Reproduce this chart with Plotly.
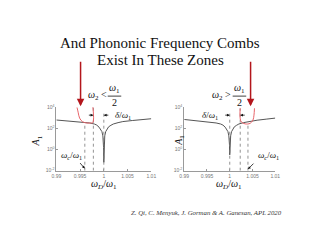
import plotly.graph_objects as go

W, H = 320, 240

title_lines = ["And Phononic Frequency Combs", "Exist In These Zones"]
citation = "Z. Qi, C. Menyuk, J. Gorman &amp; A. Ganesan, APL 2020"

x_ticks = [0.99, 0.995, 1.0, 1.005, 1.01]
x_ticktext = ["0.99", "0.995", "1", "1.005", "1.01"]
y_ticks = [-2, 0, 2, 4]
y_ticktext = ["10<sup>-2</sup>", "10<sup>0</sup>", "10<sup>2</sup>", "10<sup>4</sup>"]

# response curve (log10 A1)
left_x = [0.990, 0.992, 0.994, 0.996, 0.997, 0.998, 0.9985, 0.999, 0.9994, 0.9996,
          0.9998, 0.9999, 0.99995, 1.0, 1.00005, 1.0001, 1.0002, 1.0004, 1.0006,
          1.001, 1.0015, 1.002, 1.003, 1.004, 1.006, 1.008, 1.010]
left_logA = [2.8, 2.72, 2.66, 2.6, 2.52, 2.42, 2.32, 2.12, 1.9, 1.7,
             1.3, 0.8, 0.2, -1.2, 0.2, 0.8, 1.3, 1.7, 1.9,
             2.15, 2.3, 2.42, 2.55, 2.65, 2.75, 2.85, 2.92]
right_x = left_x
right_logA = [2.85, 2.76, 2.68, 2.6, 2.52, 2.42, 2.32, 2.12, 1.9, 1.7,
              1.3, 0.9, 0.4, -0.5, 0.4, 0.9, 1.3, 1.7, 1.9,
              2.15, 2.3, 2.42, 2.55, 2.65, 2.78, 2.88, 2.98]

# dotted marker lines: positions and top heights (log10 A1)
left_marks = [0.996, 0.9978, 1.0]
left_mark_tops = [2.6, 4.0, 3.45]
right_marks = [1.0, 1.0023, 1.004]
right_mark_tops = [3.45, 3.9, 2.55]

# red zone outlines
left_zone_x = [0.99435, 0.99459, 0.9949, 0.99551, 0.99633, 0.99714, 0.99769, 0.99769]
left_zone_y = [4.0, 3.54, 2.98, 2.64, 2.52, 2.52, 2.55, 4.05]
right_zone_x = [1.00228, 1.00228, 1.00255, 1.0034, 1.00447, 1.0051, 1.00532, 1.00543]
right_zone_y = [3.91, 2.98, 2.61, 2.43, 2.48, 2.8, 3.26, 3.91]

fig = go.Figure()

curve_color = "#555555"
for xs, ys, xa, ya in [(left_x, left_logA, "x", "y"), (right_x, right_logA, "x2", "y2")]:
    fig.add_trace(go.Scatter(x=xs, y=ys, mode="lines", xaxis=xa, yaxis=ya,
                             line=dict(color=curve_color, width=1), showlegend=False,
                             hoverinfo="skip"))

for marks, tops, xa, ya in [(left_marks, left_mark_tops, "x", "y"),
                            (right_marks, right_mark_tops, "x2", "y2")]:
    for m, t in zip(marks, tops):
        fig.add_trace(go.Scatter(x=[m, m], y=[-2, t], mode="lines", xaxis=xa, yaxis=ya,
                                 line=dict(color="#777777", width=0.8, dash="dot"),
                                 showlegend=False, hoverinfo="skip"))

for zx, zy, xa, ya in [(left_zone_x, left_zone_y, "x", "y"), (right_zone_x, right_zone_y, "x2", "y2")]:
    fig.add_trace(go.Scatter(x=zx, y=zy, mode="lines", xaxis=xa, yaxis=ya,
                             line=dict(color="#e8646a", width=1, shape="spline"),
                             showlegend=False, hoverinfo="skip"))

def px(x):
    return x / W

def py(y):
    return 1 - y / H

ax_common = dict(showline=True, linecolor="#9a9a9a", linewidth=0.8, mirror=False,
                 ticks="inside", ticklen=2, tickcolor="#9a9a9a", showgrid=False,
                 zeroline=False, tickfont=dict(size=5, color="#777777", family="Liberation Sans"))

ydom = [py(172), py(107)]
fig.update_layout(
    width=W, height=H, margin=dict(l=0, r=0, t=0, b=0),
    paper_bgcolor="white", plot_bgcolor="white",
    xaxis=dict(domain=[px(53), px(151)], range=[0.99, 1.01], tickvals=x_ticks,
               ticktext=x_ticktext, anchor="y", **ax_common),
    yaxis=dict(domain=ydom, range=[-2, 4], tickvals=y_ticks, ticktext=y_ticktext,
               anchor="x", **ax_common),
    xaxis2=dict(domain=[px(185), px(279)], range=[0.99, 1.01], tickvals=x_ticks,
                ticktext=x_ticktext, anchor="y2", **ax_common),
    yaxis2=dict(domain=ydom, range=[-2, 4], tickvals=y_ticks, ticktext=y_ticktext,
                anchor="x2", **ax_common),
)

serif = "Liberation Serif, DejaVu Serif, serif"
ann = []

def label(text, x, y, font, **kw):
    d = dict(text=text, x=px(x), y=py(y), xref="paper", yref="paper", showarrow=False,
             xanchor="center", yanchor="middle", font=font)
    d.update(kw)
    ann.append(d)

tfont = dict(family=serif, size=15, color="#111111")
label(title_lines[0], 160, 41, tfont)
label(title_lines[1], 160, 58, tfont)
label("<i>" + citation + "</i>", 207.5, 215, dict(family=serif, size=6.8, color="#333333"))

red = "#b3161c"
for xr in [78, 253.5]:
    ann.append(dict(text="", x=px(xr), y=py(106), xref="paper", yref="paper",
                    showarrow=True, ax=0, ay=-46, arrowhead=2, arrowsize=1,
                    arrowwidth=1.5, arrowcolor=red))

mfont = dict(family=serif, size=10, color="#111111")
# condition labels
label("<i>ω</i><sub>2</sub> <", 95, 95, mfont)
label("<i>ω</i><sub>2</sub> >", 223, 95, mfont)
for xc in [113, 242]:
    label("<i>ω</i><sub>1</sub>", xc, 88, mfont)
    label("2", xc, 102, mfont)

shapes = []
for xc in [113, 242]:
    shapes.append(dict(type="line", xref="paper", yref="paper", x0=px(xc - 7), x1=px(xc + 7),
                       y0=py(95.5), y1=py(95.5), line=dict(color="#111111", width=0.8)))

# axis titles
for xt in [33, 180]:
    label("<i>A</i><sub>1</sub>", xt, 141, mfont, textangle=-90)
for xt in [102, 231]:
    label("<i>ω</i><sub><i>D</i></sub>/<i>ω</i><sub>1</sub>", xt, 186, mfont)

sfont = dict(family=serif, size=9, color="#111111")
# delta labels
label("<i>δ</i>/<i>ω</i><sub>1</sub>", 122, 115, sfont)
label("<i>δ</i>/<i>ω</i><sub>1</sub>", 212, 115, sfont)
for xv, xa, ya, axo in [(left_marks[1], "x", "y", -6), (left_marks[2], "x", "y", 6),
                        (right_marks[0], "x2", "y2", -6), (right_marks[1], "x2", "y2", 6)]:
    ann.append(dict(text="", x=xv, y=3.26, xref=xa, yref=ya, showarrow=True, ax=axo, ay=0,
                    arrowhead=2, arrowsize=0.7, arrowwidth=0.8, arrowcolor="#111111"))

# omega_c labels
label("<i>ω</i><sub><i>c</i></sub>/<i>ω</i><sub>1</sub>", 69, 156, sfont)
label("<i>ω</i><sub><i>c</i></sub>/<i>ω</i><sub>1</sub>", 272, 156, sfont)
ann.append(dict(text="", x=left_marks[0], y=-1.8, xref="x", yref="y", showarrow=True,
                ax=-6, ay=-7, arrowhead=2, arrowsize=0.7, arrowwidth=0.8, arrowcolor="#111111"))
ann.append(dict(text="", x=right_marks[2], y=-1.85, xref="x2", yref="y2", showarrow=True,
                ax=7, ay=-7, arrowhead=2, arrowsize=0.7, arrowwidth=0.8, arrowcolor="#111111"))

fig.update_layout(annotations=ann, shapes=shapes)
fig.write_html("out.html")
